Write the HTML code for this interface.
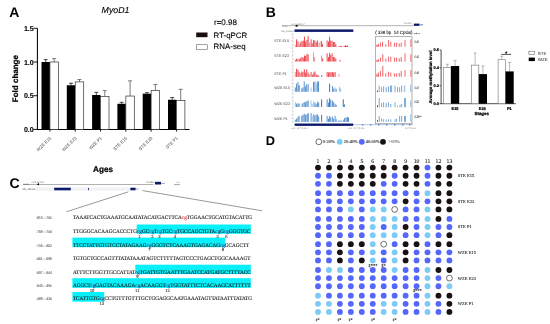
<!DOCTYPE html>
<html><head><meta charset="utf-8"><title>MyoD1 figure</title>
<style>html,body{margin:0;padding:0;background:#fff}svg{display:block;filter:blur(0.3px)}text{text-rendering:geometricPrecision}</style>
</head><body>
<svg width="550" height="324" viewBox="0 0 550 324">
<rect width="550" height="324" fill="#fff"/>
<text x="9.3" y="16.9" font-size="14" text-anchor="start" font-weight="bold" font-family="Liberation Sans, sans-serif" fill="#000"  >A</text>
<text x="115.5" y="12.8" font-size="8.8" text-anchor="middle" font-weight="normal" font-family="Liberation Sans, sans-serif" fill="#000" stroke="#000" stroke-width="0.1" font-style="italic">MyoD1</text>
<path d="M37.4 28.3V129.4M36.9 129.4H189.4" stroke="#000" stroke-width="1.05" fill="none"/>
<path d="M33.4 28.299999999999997H37.4" stroke="#000" stroke-width="0.9"/>
<text x="33.8" y="30.799999999999997" font-size="7.1" text-anchor="end" font-weight="bold" font-family="Liberation Sans, sans-serif" fill="#000" stroke="#000" stroke-width="0.1" >1.5</text>
<path d="M33.4 62.0H37.4" stroke="#000" stroke-width="0.9"/>
<text x="33.8" y="64.5" font-size="7.1" text-anchor="end" font-weight="bold" font-family="Liberation Sans, sans-serif" fill="#000" stroke="#000" stroke-width="0.1" >1.0</text>
<path d="M33.4 95.7H37.4" stroke="#000" stroke-width="0.9"/>
<text x="33.8" y="98.2" font-size="7.1" text-anchor="end" font-weight="bold" font-family="Liberation Sans, sans-serif" fill="#000" stroke="#000" stroke-width="0.1" >0.5</text>
<path d="M33.4 129.4H37.4" stroke="#000" stroke-width="0.9"/>
<text x="33.8" y="131.9" font-size="7.1" text-anchor="end" font-weight="bold" font-family="Liberation Sans, sans-serif" fill="#000" stroke="#000" stroke-width="0.1" >0.0</text>
<text x="0" y="0" font-size="8" text-anchor="middle" font-weight="bold" font-family="Liberation Sans, sans-serif" fill="#000" stroke="#000" stroke-width="0.22" transform="translate(18.2,78.6) rotate(-90)">Fold change</text>
<path d="M45.73 62.00V59.64M43.73 59.64H47.73" stroke="#000" stroke-width="0.7" fill="none"/>
<path d="M54.17 62.00V58.63M52.17 58.63H56.17" stroke="#444" stroke-width="0.7" fill="none"/>
<rect x="41.50" y="62.00" width="8.45" height="67.40" fill="#000"/>
<rect x="49.95" y="62.00" width="8.45" height="67.40" fill="#fff" stroke="#333" stroke-width="0.7"/>
<path d="M49.95 129.4V131.6" stroke="#000" stroke-width="0.9"/>
<text x="0" y="0" font-size="4.4" text-anchor="end" font-weight="normal" font-family="Liberation Sans, sans-serif" fill="#444"  transform="translate(51.65,138.40) rotate(-45)">WZE E15</text>
<path d="M71.02 85.25V83.23M69.02 83.23H73.02" stroke="#000" stroke-width="0.7" fill="none"/>
<path d="M79.47 81.88V79.52M77.47 79.52H81.47" stroke="#444" stroke-width="0.7" fill="none"/>
<rect x="66.80" y="85.25" width="8.45" height="44.15" fill="#000"/>
<rect x="75.25" y="81.88" width="8.45" height="47.52" fill="#fff" stroke="#333" stroke-width="0.7"/>
<path d="M75.25 129.4V131.6" stroke="#000" stroke-width="0.9"/>
<text x="0" y="0" font-size="4.4" text-anchor="end" font-weight="normal" font-family="Liberation Sans, sans-serif" fill="#444"  transform="translate(76.95,138.40) rotate(-45)">WZE E23</text>
<path d="M96.32 95.03V92.33M94.32 92.33H98.32" stroke="#000" stroke-width="0.7" fill="none"/>
<path d="M104.77 96.37V90.65M102.77 90.65H106.77" stroke="#444" stroke-width="0.7" fill="none"/>
<rect x="92.10" y="95.03" width="8.45" height="34.37" fill="#000"/>
<rect x="100.55" y="96.37" width="8.45" height="33.03" fill="#fff" stroke="#333" stroke-width="0.7"/>
<path d="M100.55 129.4V131.6" stroke="#000" stroke-width="0.9"/>
<text x="0" y="0" font-size="4.4" text-anchor="end" font-weight="normal" font-family="Liberation Sans, sans-serif" fill="#444"  transform="translate(102.25,138.40) rotate(-45)">WZE P1</text>
<path d="M121.62 103.79V102.31M119.62 102.31H123.62" stroke="#000" stroke-width="0.7" fill="none"/>
<path d="M130.08 96.04V80.87M128.08 80.87H132.08" stroke="#444" stroke-width="0.7" fill="none"/>
<rect x="117.40" y="103.79" width="8.45" height="25.61" fill="#000"/>
<rect x="125.85" y="96.04" width="8.45" height="33.36" fill="#fff" stroke="#333" stroke-width="0.7"/>
<path d="M125.85 129.4V131.6" stroke="#000" stroke-width="0.9"/>
<text x="0" y="0" font-size="4.4" text-anchor="end" font-weight="normal" font-family="Liberation Sans, sans-serif" fill="#444"  transform="translate(127.55,138.40) rotate(-45)">STE E15</text>
<path d="M146.92 93.68V92.67M144.92 92.67H148.92" stroke="#000" stroke-width="0.7" fill="none"/>
<path d="M155.38 90.51V84.44M153.38 84.44H157.38" stroke="#444" stroke-width="0.7" fill="none"/>
<rect x="142.70" y="93.68" width="8.45" height="35.72" fill="#000"/>
<rect x="151.15" y="90.51" width="8.45" height="38.89" fill="#fff" stroke="#333" stroke-width="0.7"/>
<path d="M151.15 129.4V131.6" stroke="#000" stroke-width="0.9"/>
<text x="0" y="0" font-size="4.4" text-anchor="end" font-weight="normal" font-family="Liberation Sans, sans-serif" fill="#444"  transform="translate(152.85,138.40) rotate(-45)">STE E23</text>
<path d="M172.22 99.74V97.52M170.22 97.52H174.22" stroke="#000" stroke-width="0.7" fill="none"/>
<path d="M180.68 100.42V89.30M178.68 89.30H182.68" stroke="#444" stroke-width="0.7" fill="none"/>
<rect x="168.00" y="99.74" width="8.45" height="29.66" fill="#000"/>
<rect x="176.45" y="100.42" width="8.45" height="28.98" fill="#fff" stroke="#333" stroke-width="0.7"/>
<path d="M176.45 129.4V131.6" stroke="#000" stroke-width="0.9"/>
<text x="0" y="0" font-size="4.4" text-anchor="end" font-weight="normal" font-family="Liberation Sans, sans-serif" fill="#444"  transform="translate(178.15,138.40) rotate(-45)">STE P1</text>
<text x="103" y="172.1" font-size="8.2" text-anchor="middle" font-weight="bold" font-family="Liberation Sans, sans-serif" fill="#000" stroke="#000" stroke-width="0.22" >Ages</text>
<text x="214" y="25.3" font-size="8" text-anchor="start" font-weight="normal" font-family="Liberation Sans, sans-serif" fill="#000" stroke="#000" stroke-width="0.1" >r=0.98</text>
<rect x="196.2" y="32.5" width="11.3" height="4.7" fill="#1a0f0f"/>
<text x="213.6" y="37.7" font-size="7.9" text-anchor="start" font-weight="normal" font-family="Liberation Sans, sans-serif" fill="#000" stroke="#000" stroke-width="0.1" >RT-qPCR</text>
<rect x="196.4" y="44.7" width="11" height="4.7" fill="#fff" stroke="#666" stroke-width="0.6"/>
<text x="213.6" y="49.4" font-size="7.9" text-anchor="start" font-weight="normal" font-family="Liberation Sans, sans-serif" fill="#000" stroke="#000" stroke-width="0.1" >RNA-seq</text>
<text x="265.8" y="16.9" font-size="14" text-anchor="start" font-weight="bold" font-family="Liberation Sans, sans-serif" fill="#000"  >B</text>
<path d="M282 25.7H413" stroke="#aaa" stroke-width="0.9"/>
<rect x="295.6" y="24.8" width="2" height="1.8" fill="#000"/>
<text x="291" y="24.6" font-size="2.2" text-anchor="start" font-weight="normal" font-family="Liberation Sans, sans-serif" fill="#888"  >chr5: 1234567</text>
<text x="282" y="26.6" font-size="2.2" text-anchor="start" font-weight="normal" font-family="Liberation Sans, sans-serif" fill="#888"  >Scale</text>
<rect x="413.8" y="23.6" width="5.6" height="2.3" fill="#0d1b6b"/>
<path d="M419.4 24.8H423" stroke="#0d1b6b" stroke-width="0.6"/>
<text x="404" y="24.3" font-size="2.2" text-anchor="start" font-weight="normal" font-family="Liberation Sans, sans-serif" fill="#888"  >MYOD1</text>
<text x="281" y="31.6" font-size="2.3" text-anchor="start" font-weight="normal" font-family="Liberation Sans, sans-serif" fill="#777"  >NM_204214</text>
<rect x="294.5" y="29.4" width="58.8" height="2.5" fill="#0d1b6b"/>
<path d="M292.6 33V123" stroke="#bbb" stroke-width="1.6" stroke-dasharray="0.5 0.9"/>
<text x="274.2" y="42.099999999999994" font-size="3.7" text-anchor="start" font-weight="normal" font-family="Liberation Sans, sans-serif" fill="#444"  >STE E15</text>
<text x="274.2" y="56.699999999999996" font-size="3.7" text-anchor="start" font-weight="normal" font-family="Liberation Sans, sans-serif" fill="#444"  >STE E23</text>
<text x="274.2" y="75.2" font-size="3.7" text-anchor="start" font-weight="normal" font-family="Liberation Sans, sans-serif" fill="#444"  >STE P1</text>
<text x="274.2" y="88.8" font-size="3.7" text-anchor="start" font-weight="normal" font-family="Liberation Sans, sans-serif" fill="#444"  >WZE E15</text>
<text x="274.2" y="104.6" font-size="3.7" text-anchor="start" font-weight="normal" font-family="Liberation Sans, sans-serif" fill="#444"  >WZE E23</text>
<text x="274.2" y="119.6" font-size="3.7" text-anchor="start" font-weight="normal" font-family="Liberation Sans, sans-serif" fill="#444"  >WZE P1</text>
<rect x="294.80" y="44.82" width="0.95" height="2.18" fill="#e81c24" opacity="0.5"/>
<rect x="296.11" y="39.37" width="0.95" height="7.63" fill="#e81c24" opacity="0.85"/>
<rect x="297.52" y="41.55" width="0.95" height="5.45" fill="#e81c24" opacity="0.85"/>
<rect x="298.94" y="43.73" width="0.95" height="3.27" fill="#e81c24" opacity="0.5"/>
<rect x="300.25" y="42.09" width="0.95" height="4.91" fill="#e81c24" opacity="0.85"/>
<rect x="301.56" y="41.00" width="0.95" height="6.00" fill="#e81c24" opacity="0.85"/>
<rect x="302.76" y="40.46" width="0.95" height="6.54" fill="#e81c24" opacity="0.85"/>
<rect x="304.07" y="36.64" width="0.95" height="10.36" fill="#e81c24" opacity="0.85"/>
<rect x="305.16" y="41.55" width="0.95" height="5.45" fill="#e81c24" opacity="0.85"/>
<rect x="306.47" y="39.91" width="0.95" height="7.09" fill="#e81c24" opacity="0.85"/>
<rect x="307.66" y="36.09" width="0.95" height="10.91" fill="#e81c24" opacity="0.85"/>
<rect x="308.97" y="42.64" width="0.95" height="4.36" fill="#e81c24" opacity="0.5"/>
<rect x="310.61" y="39.37" width="0.95" height="7.63" fill="#e81c24" opacity="0.85"/>
<rect x="311.70" y="43.18" width="0.95" height="3.82" fill="#e81c24" opacity="0.85"/>
<rect x="313.12" y="39.91" width="0.95" height="7.09" fill="#e81c24" opacity="0.85"/>
<rect x="314.43" y="40.46" width="0.95" height="6.54" fill="#e81c24" opacity="0.85"/>
<rect x="315.73" y="42.09" width="0.95" height="4.91" fill="#e81c24" opacity="0.85"/>
<rect x="317.15" y="40.46" width="0.95" height="6.54" fill="#e81c24" opacity="0.85"/>
<rect x="318.79" y="42.64" width="0.95" height="4.36" fill="#e81c24" opacity="0.5"/>
<rect x="320.75" y="41.00" width="0.95" height="6.00" fill="#e81c24" opacity="1"/>
<rect x="321.84" y="43.73" width="0.95" height="3.27" fill="#e81c24" opacity="0.85"/>
<rect x="326.64" y="40.46" width="0.95" height="6.54" fill="#e81c24" opacity="0.85"/>
<rect x="328.06" y="41.55" width="0.95" height="5.45" fill="#e81c24" opacity="0.85"/>
<rect x="329.15" y="36.64" width="0.95" height="10.36" fill="#e81c24" opacity="0.85"/>
<rect x="330.24" y="40.46" width="0.95" height="6.54" fill="#e81c24" opacity="0.85"/>
<rect x="331.66" y="41.00" width="0.95" height="6.00" fill="#e81c24" opacity="0.85"/>
<rect x="332.96" y="42.09" width="0.95" height="4.91" fill="#e81c24" opacity="0.85"/>
<rect x="334.27" y="42.09" width="0.95" height="4.91" fill="#e81c24" opacity="0.85"/>
<rect x="335.36" y="44.27" width="0.95" height="2.73" fill="#e81c24" opacity="0.85"/>
<rect x="338.64" y="46.13" width="0.95" height="0.87" fill="#e81c24" opacity="0.85"/>
<rect x="340.05" y="45.91" width="0.95" height="1.09" fill="#e81c24" opacity="0.85"/>
<rect x="341.14" y="46.13" width="0.95" height="0.87" fill="#e81c24" opacity="0.85"/>
<rect x="343.65" y="45.91" width="0.95" height="1.09" fill="#e81c24" opacity="0.85"/>
<rect x="344.96" y="45.36" width="0.95" height="1.64" fill="#e81c24" opacity="1"/>
<rect x="346.05" y="45.91" width="0.95" height="1.09" fill="#e81c24" opacity="0.85"/>
<rect x="347.14" y="45.69" width="0.95" height="1.31" fill="#e81c24" opacity="1"/>
<rect x="294.80" y="59.86" width="0.95" height="1.64" fill="#e81c24" opacity="0.85"/>
<rect x="296.11" y="58.77" width="0.95" height="2.73" fill="#e81c24" opacity="0.85"/>
<rect x="297.52" y="58.77" width="0.95" height="2.73" fill="#e81c24" opacity="0.85"/>
<rect x="298.94" y="59.32" width="0.95" height="2.18" fill="#e81c24" opacity="0.85"/>
<rect x="300.25" y="57.68" width="0.95" height="3.82" fill="#e81c24" opacity="0.85"/>
<rect x="301.56" y="57.14" width="0.95" height="4.36" fill="#e81c24" opacity="0.85"/>
<rect x="302.76" y="57.68" width="0.95" height="3.82" fill="#e81c24" opacity="0.85"/>
<rect x="304.07" y="55.50" width="0.95" height="6.00" fill="#e81c24" opacity="0.85"/>
<rect x="305.16" y="56.05" width="0.95" height="5.45" fill="#e81c24" opacity="0.85"/>
<rect x="306.47" y="53.87" width="0.95" height="7.63" fill="#e81c24" opacity="0.85"/>
<rect x="307.66" y="54.41" width="0.95" height="7.09" fill="#e81c24" opacity="0.85"/>
<rect x="313.01" y="52.23" width="0.95" height="9.27" fill="#e81c24" opacity="0.5"/>
<rect x="314.10" y="57.14" width="0.95" height="4.36" fill="#e81c24" opacity="0.5"/>
<rect x="320.97" y="55.50" width="0.95" height="6.00" fill="#e81c24" opacity="0.5"/>
<rect x="322.28" y="58.23" width="0.95" height="3.27" fill="#e81c24" opacity="0.85"/>
<rect x="326.64" y="53.32" width="0.95" height="8.18" fill="#e81c24" opacity="0.85"/>
<rect x="328.06" y="57.14" width="0.95" height="4.36" fill="#e81c24" opacity="0.85"/>
<rect x="329.15" y="52.78" width="0.95" height="8.72" fill="#e81c24" opacity="0.85"/>
<rect x="330.24" y="54.96" width="0.95" height="6.54" fill="#e81c24" opacity="0.85"/>
<rect x="331.66" y="53.32" width="0.95" height="8.18" fill="#e81c24" opacity="0.85"/>
<rect x="332.96" y="57.14" width="0.95" height="4.36" fill="#e81c24" opacity="0.85"/>
<rect x="334.27" y="57.14" width="0.95" height="4.36" fill="#e81c24" opacity="0.85"/>
<rect x="335.36" y="58.77" width="0.95" height="2.73" fill="#e81c24" opacity="0.85"/>
<rect x="339.51" y="59.86" width="0.95" height="1.64" fill="#e81c24" opacity="0.85"/>
<rect x="294.80" y="71.99" width="0.95" height="4.91" fill="#e81c24" opacity="0.5"/>
<rect x="296.11" y="68.72" width="0.95" height="8.18" fill="#e81c24" opacity="0.85"/>
<rect x="297.52" y="69.81" width="0.95" height="7.09" fill="#e81c24" opacity="0.85"/>
<rect x="298.61" y="71.99" width="0.95" height="4.91" fill="#e81c24" opacity="0.85"/>
<rect x="300.03" y="73.08" width="0.95" height="3.82" fill="#e81c24" opacity="0.5"/>
<rect x="301.34" y="71.45" width="0.95" height="5.45" fill="#e81c24" opacity="0.85"/>
<rect x="302.43" y="71.99" width="0.95" height="4.91" fill="#e81c24" opacity="0.85"/>
<rect x="303.85" y="69.27" width="0.95" height="7.63" fill="#e81c24" opacity="0.85"/>
<rect x="305.16" y="72.54" width="0.95" height="4.36" fill="#e81c24" opacity="0.85"/>
<rect x="306.25" y="69.27" width="0.95" height="7.63" fill="#e81c24" opacity="0.85"/>
<rect x="307.66" y="72.54" width="0.95" height="4.36" fill="#e81c24" opacity="0.85"/>
<rect x="308.97" y="74.17" width="0.95" height="2.73" fill="#e81c24" opacity="0.5"/>
<rect x="310.61" y="71.99" width="0.95" height="4.91" fill="#e81c24" opacity="0.85"/>
<rect x="311.92" y="74.72" width="0.95" height="2.18" fill="#e81c24" opacity="0.85"/>
<rect x="313.34" y="72.54" width="0.95" height="4.36" fill="#e81c24" opacity="0.85"/>
<rect x="314.43" y="71.45" width="0.95" height="5.45" fill="#e81c24" opacity="0.85"/>
<rect x="315.73" y="74.17" width="0.95" height="2.73" fill="#e81c24" opacity="0.85"/>
<rect x="317.15" y="75.26" width="0.95" height="1.64" fill="#e81c24" opacity="0.85"/>
<rect x="318.24" y="75.59" width="0.95" height="1.31" fill="#e81c24" opacity="0.85"/>
<rect x="321.19" y="75.26" width="0.95" height="1.64" fill="#e81c24" opacity="1"/>
<rect x="326.64" y="71.99" width="0.95" height="4.91" fill="#e81c24" opacity="0.85"/>
<rect x="328.06" y="72.54" width="0.95" height="4.36" fill="#e81c24" opacity="0.85"/>
<rect x="329.37" y="71.99" width="0.95" height="4.91" fill="#e81c24" opacity="0.85"/>
<rect x="330.57" y="72.54" width="0.95" height="4.36" fill="#e81c24" opacity="0.85"/>
<rect x="331.87" y="71.99" width="0.95" height="4.91" fill="#e81c24" opacity="0.85"/>
<rect x="333.18" y="72.54" width="0.95" height="4.36" fill="#e81c24" opacity="0.85"/>
<rect x="334.60" y="71.99" width="0.95" height="4.91" fill="#e81c24" opacity="0.85"/>
<rect x="338.42" y="74.17" width="0.95" height="2.73" fill="#e81c24" opacity="0.5"/>
<rect x="294.80" y="87.44" width="0.95" height="4.36" fill="#3f82c6" opacity="0.92"/>
<rect x="296.11" y="83.62" width="0.95" height="8.18" fill="#3f82c6" opacity="0.92"/>
<rect x="297.52" y="81.99" width="0.95" height="9.81" fill="#3f82c6" opacity="0.92"/>
<rect x="298.61" y="85.26" width="0.95" height="6.54" fill="#1c5ea6" opacity="0.92"/>
<rect x="301.34" y="88.53" width="0.95" height="3.27" fill="#3f82c6" opacity="0.92"/>
<rect x="302.43" y="87.44" width="0.95" height="4.36" fill="#3f82c6" opacity="0.92"/>
<rect x="303.74" y="81.44" width="0.95" height="10.36" fill="#3f82c6" opacity="0.92"/>
<rect x="305.16" y="86.35" width="0.95" height="5.45" fill="#3f82c6" opacity="0.92"/>
<rect x="306.25" y="84.17" width="0.95" height="7.63" fill="#3f82c6" opacity="0.92"/>
<rect x="307.66" y="84.17" width="0.95" height="7.63" fill="#3f82c6" opacity="0.92"/>
<rect x="310.61" y="87.44" width="0.95" height="4.36" fill="#8fbce4" opacity="0.92"/>
<rect x="313.01" y="81.99" width="0.95" height="9.81" fill="#3f82c6" opacity="0.92"/>
<rect x="314.43" y="81.44" width="0.95" height="10.36" fill="#3f82c6" opacity="0.92"/>
<rect x="315.73" y="84.17" width="0.95" height="7.63" fill="#8fbce4" opacity="0.92"/>
<rect x="316.82" y="81.44" width="0.95" height="10.36" fill="#3f82c6" opacity="0.92"/>
<rect x="318.02" y="81.44" width="0.95" height="10.36" fill="#3f82c6" opacity="0.92"/>
<rect x="329.15" y="83.62" width="0.95" height="8.18" fill="#1c5ea6" opacity="0.92"/>
<rect x="332.09" y="85.80" width="0.95" height="6.00" fill="#3f82c6" opacity="0.92"/>
<rect x="333.29" y="88.53" width="0.95" height="3.27" fill="#3f82c6" opacity="0.92"/>
<rect x="334.60" y="87.44" width="0.95" height="4.36" fill="#8fbce4" opacity="0.92"/>
<rect x="335.69" y="89.07" width="0.95" height="2.73" fill="#3f82c6" opacity="0.92"/>
<rect x="338.96" y="86.89" width="0.95" height="4.91" fill="#8fbce4" opacity="0.92"/>
<rect x="340.05" y="88.53" width="0.95" height="3.27" fill="#8fbce4" opacity="0.92"/>
<rect x="294.80" y="102.09" width="0.95" height="4.91" fill="#8fbce4" opacity="0.92"/>
<rect x="296.11" y="103.73" width="0.95" height="3.27" fill="#3f82c6" opacity="0.92"/>
<rect x="297.52" y="103.18" width="0.95" height="3.82" fill="#3f82c6" opacity="0.92"/>
<rect x="298.61" y="103.73" width="0.95" height="3.27" fill="#3f82c6" opacity="0.92"/>
<rect x="301.34" y="103.73" width="0.95" height="3.27" fill="#8fbce4" opacity="0.92"/>
<rect x="302.43" y="103.18" width="0.95" height="3.82" fill="#3f82c6" opacity="0.92"/>
<rect x="303.74" y="102.09" width="0.95" height="4.91" fill="#3f82c6" opacity="0.92"/>
<rect x="305.16" y="102.09" width="0.95" height="4.91" fill="#3f82c6" opacity="0.92"/>
<rect x="306.47" y="101.00" width="0.95" height="6.00" fill="#3f82c6" opacity="0.92"/>
<rect x="307.66" y="100.46" width="0.95" height="6.54" fill="#3f82c6" opacity="0.92"/>
<rect x="310.61" y="100.46" width="0.95" height="6.54" fill="#8fbce4" opacity="0.92"/>
<rect x="311.70" y="103.73" width="0.95" height="3.27" fill="#8fbce4" opacity="0.92"/>
<rect x="313.34" y="101.00" width="0.95" height="6.00" fill="#8fbce4" opacity="0.92"/>
<rect x="314.43" y="102.64" width="0.95" height="4.36" fill="#3f82c6" opacity="0.92"/>
<rect x="315.73" y="103.73" width="0.95" height="3.27" fill="#3f82c6" opacity="0.92"/>
<rect x="317.15" y="101.55" width="0.95" height="5.45" fill="#3f82c6" opacity="0.92"/>
<rect x="318.24" y="102.64" width="0.95" height="4.36" fill="#3f82c6" opacity="0.92"/>
<rect x="321.19" y="99.37" width="0.95" height="7.63" fill="#1c5ea6" opacity="0.92"/>
<rect x="326.64" y="99.37" width="0.95" height="7.63" fill="#3f82c6" opacity="0.92"/>
<rect x="328.06" y="102.64" width="0.95" height="4.36" fill="#3f82c6" opacity="0.92"/>
<rect x="329.15" y="98.28" width="0.95" height="8.72" fill="#1c5ea6" opacity="0.92"/>
<rect x="330.24" y="99.91" width="0.95" height="7.09" fill="#3f82c6" opacity="0.92"/>
<rect x="331.87" y="100.46" width="0.95" height="6.54" fill="#3f82c6" opacity="0.92"/>
<rect x="333.18" y="102.09" width="0.95" height="4.91" fill="#3f82c6" opacity="0.92"/>
<rect x="334.60" y="103.73" width="0.95" height="3.27" fill="#3f82c6" opacity="0.92"/>
<rect x="335.69" y="104.82" width="0.95" height="2.18" fill="#3f82c6" opacity="0.92"/>
<rect x="342.78" y="99.37" width="0.95" height="7.63" fill="#1c5ea6" opacity="0.92"/>
<rect x="344.09" y="104.27" width="0.95" height="2.73" fill="#3f82c6" opacity="0.92"/>
<rect x="294.80" y="119.72" width="0.95" height="2.18" fill="#3f82c6" opacity="0.92"/>
<rect x="296.11" y="118.63" width="0.95" height="3.27" fill="#3f82c6" opacity="0.92"/>
<rect x="297.52" y="116.99" width="0.95" height="4.91" fill="#3f82c6" opacity="0.92"/>
<rect x="298.61" y="115.90" width="0.95" height="6.00" fill="#3f82c6" opacity="0.92"/>
<rect x="301.34" y="115.90" width="0.95" height="6.00" fill="#3f82c6" opacity="0.92"/>
<rect x="302.43" y="114.81" width="0.95" height="7.09" fill="#3f82c6" opacity="0.92"/>
<rect x="303.74" y="113.72" width="0.95" height="8.18" fill="#3f82c6" opacity="0.92"/>
<rect x="305.16" y="114.81" width="0.95" height="7.09" fill="#3f82c6" opacity="0.92"/>
<rect x="306.47" y="114.27" width="0.95" height="7.63" fill="#3f82c6" opacity="0.92"/>
<rect x="307.66" y="113.18" width="0.95" height="8.72" fill="#1c5ea6" opacity="0.92"/>
<rect x="310.61" y="113.18" width="0.95" height="8.72" fill="#3f82c6" opacity="0.92"/>
<rect x="311.70" y="115.90" width="0.95" height="6.00" fill="#8fbce4" opacity="0.92"/>
<rect x="313.34" y="114.27" width="0.95" height="7.63" fill="#3f82c6" opacity="0.92"/>
<rect x="314.43" y="115.36" width="0.95" height="6.54" fill="#3f82c6" opacity="0.92"/>
<rect x="315.73" y="114.81" width="0.95" height="7.09" fill="#3f82c6" opacity="0.92"/>
<rect x="317.15" y="114.27" width="0.95" height="7.63" fill="#3f82c6" opacity="0.92"/>
<rect x="318.24" y="116.45" width="0.95" height="5.45" fill="#3f82c6" opacity="0.92"/>
<rect x="321.19" y="114.81" width="0.95" height="7.09" fill="#1c5ea6" opacity="0.92"/>
<rect x="326.64" y="115.90" width="0.95" height="6.00" fill="#3f82c6" opacity="0.92"/>
<rect x="328.06" y="118.63" width="0.95" height="3.27" fill="#3f82c6" opacity="0.92"/>
<rect x="329.15" y="115.90" width="0.95" height="6.00" fill="#3f82c6" opacity="0.92"/>
<rect x="330.24" y="117.54" width="0.95" height="4.36" fill="#3f82c6" opacity="0.92"/>
<rect x="331.87" y="116.45" width="0.95" height="5.45" fill="#3f82c6" opacity="0.92"/>
<rect x="333.18" y="118.63" width="0.95" height="3.27" fill="#3f82c6" opacity="0.92"/>
<rect x="334.60" y="115.90" width="0.95" height="6.00" fill="#3f82c6" opacity="0.92"/>
<rect x="335.69" y="119.17" width="0.95" height="2.73" fill="#3f82c6" opacity="0.92"/>
<rect x="337.87" y="120.59" width="0.95" height="1.31" fill="#3f82c6" opacity="0.92"/>
<rect x="339.51" y="120.26" width="0.95" height="1.64" fill="#3f82c6" opacity="0.92"/>
<rect x="340.82" y="120.81" width="0.95" height="1.09" fill="#3f82c6" opacity="0.92"/>
<rect x="342.78" y="119.72" width="0.95" height="2.18" fill="#3f82c6" opacity="0.92"/>
<rect x="344.09" y="118.08" width="0.95" height="3.82" fill="#3f82c6" opacity="0.92"/>
<rect x="345.51" y="117.54" width="0.95" height="4.36" fill="#3f82c6" opacity="0.92"/>
<rect x="346.81" y="116.99" width="0.95" height="4.91" fill="#1c5ea6" opacity="0.92"/>
<rect x="348.01" y="117.54" width="0.95" height="4.36" fill="#3f82c6" opacity="0.92"/>
<rect x="294.6" y="123.5" width="58.6" height="2.4" fill="#0d1b6b"/>
<path d="M353 124.7H413" stroke="#9fb2dd" stroke-width="0.8"/>
<rect x="362" y="124" width="1.4" height="1.4" fill="#5a78c8"/>
<rect x="370" y="124" width="1.4" height="1.4" fill="#5a78c8"/>
<rect x="378" y="124" width="1.4" height="1.4" fill="#5a78c8"/>
<rect x="386" y="124" width="1.4" height="1.4" fill="#5a78c8"/>
<rect x="394" y="124" width="1.4" height="1.4" fill="#5a78c8"/>
<rect x="402" y="124" width="1.4" height="1.4" fill="#5a78c8"/>
<rect x="409" y="124" width="1.4" height="1.4" fill="#5a78c8"/>
<text x="291" y="129" font-size="2.2" text-anchor="start" font-weight="normal" font-family="Liberation Sans, sans-serif" fill="#888"  >chr5: 12,770,000</text>
<text x="348" y="129" font-size="2.2" text-anchor="start" font-weight="normal" font-family="Liberation Sans, sans-serif" fill="#888"  >chr5: 12,772,000</text>
<text x="405" y="128.6" font-size="2.2" text-anchor="start" font-weight="normal" font-family="Liberation Sans, sans-serif" fill="#888"  >12,773,000</text>
<text x="375.2" y="34.1" font-size="4.7" text-anchor="start" font-weight="normal" font-family="Liberation Sans, sans-serif" fill="#222" stroke="#222" stroke-width="0.1" textLength="37.3" lengthAdjust="spacingAndGlyphs">( 338 bp&#160; 14 CpGs)</text>
<path d="M413.6 33.6H420M416.5 32.6V33.6" stroke="#444" stroke-width="0.5" fill="none"/>
<rect x="375.5" y="36.7" width="36.5" height="87" fill="none" stroke="#8a8a8a" stroke-width="0.65"/>
<rect x="376.50" y="44.80" width="1.0" height="2.00" fill="#e81c24" opacity="1"/>
<rect x="377.93" y="43.80" width="0.8" height="3.00" fill="#e81c24" opacity="0.85"/>
<rect x="379.93" y="42.63" width="0.8" height="4.17" fill="#e81c24" opacity="0.85"/>
<rect x="382.10" y="41.80" width="0.8" height="5.00" fill="#e81c24" opacity="0.85"/>
<rect x="385.43" y="44.30" width="0.8" height="2.50" fill="#e81c24" opacity="0.85"/>
<rect x="388.27" y="40.13" width="0.8" height="6.67" fill="#e81c24" opacity="0.85"/>
<rect x="390.43" y="41.80" width="0.8" height="5.00" fill="#e81c24" opacity="0.85"/>
<rect x="394.27" y="42.63" width="0.8" height="4.17" fill="#e81c24" opacity="0.85"/>
<rect x="396.27" y="42.63" width="0.8" height="4.17" fill="#e81c24" opacity="0.85"/>
<rect x="398.77" y="43.47" width="0.8" height="3.33" fill="#e81c24" opacity="0.85"/>
<rect x="400.77" y="42.63" width="0.8" height="4.17" fill="#e81c24" opacity="0.85"/>
<rect x="404.25" y="40.13" width="1.5" height="6.67" fill="#e81c24" opacity="0.45"/>
<rect x="410.08" y="39.30" width="1.5" height="7.50" fill="#e81c24" opacity="0.45"/>
<rect x="376.50" y="60.03" width="1.0" height="1.67" fill="#e81c24" opacity="1"/>
<rect x="377.93" y="59.20" width="0.8" height="2.50" fill="#e81c24" opacity="0.85"/>
<rect x="379.93" y="57.53" width="0.8" height="4.17" fill="#e81c24" opacity="0.85"/>
<rect x="382.43" y="54.20" width="0.8" height="7.50" fill="#e81c24" opacity="0.85"/>
<rect x="385.43" y="58.70" width="0.8" height="3.00" fill="#e81c24" opacity="0.85"/>
<rect x="388.27" y="56.70" width="0.8" height="5.00" fill="#e81c24" opacity="0.85"/>
<rect x="390.43" y="56.70" width="0.8" height="5.00" fill="#e81c24" opacity="0.85"/>
<rect x="394.27" y="57.53" width="0.8" height="4.17" fill="#e81c24" opacity="0.85"/>
<rect x="396.27" y="57.53" width="0.8" height="4.17" fill="#e81c24" opacity="0.85"/>
<rect x="398.77" y="58.37" width="0.8" height="3.33" fill="#e81c24" opacity="0.85"/>
<rect x="400.77" y="57.03" width="0.8" height="4.67" fill="#e81c24" opacity="0.85"/>
<rect x="404.25" y="53.37" width="1.5" height="8.33" fill="#e81c24" opacity="0.45"/>
<rect x="410.08" y="54.20" width="1.5" height="7.50" fill="#e81c24" opacity="0.45"/>
<rect x="376.50" y="74.20" width="1.0" height="2.50" fill="#e81c24" opacity="1"/>
<rect x="377.93" y="72.53" width="0.8" height="4.17" fill="#e81c24" opacity="0.85"/>
<rect x="379.93" y="70.87" width="0.8" height="5.83" fill="#e81c24" opacity="0.85"/>
<rect x="382.43" y="65.87" width="0.8" height="10.83" fill="#e81c24" opacity="0.85"/>
<rect x="385.43" y="73.37" width="0.8" height="3.33" fill="#e81c24" opacity="0.85"/>
<rect x="388.27" y="71.70" width="0.8" height="5.00" fill="#e81c24" opacity="0.85"/>
<rect x="390.43" y="72.53" width="0.8" height="4.17" fill="#e81c24" opacity="0.85"/>
<rect x="394.27" y="73.37" width="0.8" height="3.33" fill="#e81c24" opacity="0.85"/>
<rect x="396.27" y="73.37" width="0.8" height="3.33" fill="#e81c24" opacity="0.85"/>
<rect x="398.77" y="73.03" width="0.8" height="3.67" fill="#e81c24" opacity="0.85"/>
<rect x="400.77" y="70.87" width="0.8" height="5.83" fill="#e81c24" opacity="0.85"/>
<rect x="404.25" y="70.03" width="1.5" height="6.67" fill="#e81c24" opacity="0.45"/>
<rect x="410.08" y="70.03" width="1.5" height="6.67" fill="#e81c24" opacity="0.45"/>
<rect x="377.00" y="90.53" width="1.0" height="1.67" fill="#1c5ea6" opacity="0.92"/>
<rect x="378.77" y="85.53" width="0.8" height="6.67" fill="#4a8acb" opacity="0.92"/>
<rect x="381.27" y="87.20" width="0.8" height="5.00" fill="#4a8acb" opacity="0.92"/>
<rect x="383.27" y="86.37" width="0.8" height="5.83" fill="#4a8acb" opacity="0.92"/>
<rect x="385.77" y="87.20" width="0.8" height="5.00" fill="#4a8acb" opacity="0.92"/>
<rect x="387.93" y="86.37" width="0.8" height="5.83" fill="#4a8acb" opacity="0.92"/>
<rect x="389.93" y="85.53" width="0.8" height="6.67" fill="#4a8acb" opacity="0.92"/>
<rect x="391.27" y="85.53" width="0.8" height="6.67" fill="#4a8acb" opacity="0.92"/>
<rect x="394.60" y="85.53" width="0.8" height="6.67" fill="#4a8acb" opacity="0.92"/>
<rect x="397.10" y="87.20" width="0.8" height="5.00" fill="#4a8acb" opacity="0.92"/>
<rect x="399.27" y="87.20" width="0.8" height="5.00" fill="#4a8acb" opacity="0.92"/>
<rect x="401.27" y="85.53" width="0.8" height="6.67" fill="#4a8acb" opacity="0.92"/>
<rect x="403.75" y="85.53" width="1.5" height="6.67" fill="#9cc3e6" opacity="0.92"/>
<rect x="410.08" y="84.70" width="1.5" height="7.50" fill="#9cc3e6" opacity="0.92"/>
<rect x="377.00" y="105.20" width="1.0" height="2.00" fill="#1c5ea6" opacity="0.92"/>
<rect x="378.77" y="98.03" width="0.8" height="9.17" fill="#4a8acb" opacity="0.92"/>
<rect x="381.27" y="103.03" width="0.8" height="4.17" fill="#4a8acb" opacity="0.92"/>
<rect x="383.27" y="102.20" width="0.8" height="5.00" fill="#4a8acb" opacity="0.92"/>
<rect x="385.77" y="103.03" width="0.8" height="4.17" fill="#4a8acb" opacity="0.92"/>
<rect x="387.93" y="102.20" width="0.8" height="5.00" fill="#4a8acb" opacity="0.92"/>
<rect x="390.43" y="103.87" width="0.8" height="3.33" fill="#4a8acb" opacity="0.92"/>
<rect x="394.60" y="102.20" width="0.8" height="5.00" fill="#4a8acb" opacity="0.92"/>
<rect x="397.10" y="105.53" width="0.8" height="1.67" fill="#4a8acb" opacity="0.92"/>
<rect x="399.60" y="104.70" width="0.8" height="2.50" fill="#4a8acb" opacity="0.92"/>
<rect x="401.27" y="103.87" width="0.8" height="3.33" fill="#4a8acb" opacity="0.92"/>
<rect x="404.25" y="98.03" width="1.5" height="9.17" fill="#4a8acb" opacity="0.92"/>
<rect x="410.08" y="100.53" width="1.5" height="6.67" fill="#9cc3e6" opacity="0.92"/>
<rect x="377.00" y="120.13" width="1.0" height="1.67" fill="#1c5ea6" opacity="0.92"/>
<rect x="378.77" y="115.97" width="0.8" height="5.83" fill="#4a8acb" opacity="0.92"/>
<rect x="381.27" y="118.47" width="0.8" height="3.33" fill="#4a8acb" opacity="0.92"/>
<rect x="383.27" y="119.30" width="0.8" height="2.50" fill="#4a8acb" opacity="0.92"/>
<rect x="385.77" y="119.30" width="0.8" height="2.50" fill="#4a8acb" opacity="0.92"/>
<rect x="387.93" y="119.30" width="0.8" height="2.50" fill="#4a8acb" opacity="0.92"/>
<rect x="390.43" y="119.30" width="0.8" height="2.50" fill="#4a8acb" opacity="0.92"/>
<rect x="394.60" y="119.30" width="0.8" height="2.50" fill="#4a8acb" opacity="0.92"/>
<rect x="396.27" y="118.47" width="0.8" height="3.33" fill="#4a8acb" opacity="0.92"/>
<rect x="399.27" y="115.97" width="0.8" height="5.83" fill="#4a8acb" opacity="0.92"/>
<rect x="401.27" y="115.97" width="0.8" height="5.83" fill="#4a8acb" opacity="0.92"/>
<rect x="404.25" y="115.97" width="1.5" height="5.83" fill="#4a8acb" opacity="0.92"/>
<rect x="410.08" y="114.30" width="1.5" height="7.50" fill="#9cc3e6" opacity="0.92"/>
<text x="414.4" y="43.300000000000004" font-size="3.4" text-anchor="start" font-weight="normal" font-family="Liberation Sans, sans-serif" fill="#222" stroke="#222" stroke-width="0.06" textLength="4.5" lengthAdjust="spacingAndGlyphs">0.43</text>
<text x="414.4" y="57.6" font-size="3.4" text-anchor="start" font-weight="normal" font-family="Liberation Sans, sans-serif" fill="#222" stroke="#222" stroke-width="0.06" textLength="4.5" lengthAdjust="spacingAndGlyphs">0.43</text>
<text x="414.4" y="73.60000000000001" font-size="3.4" text-anchor="start" font-weight="normal" font-family="Liberation Sans, sans-serif" fill="#222" stroke="#222" stroke-width="0.06" textLength="4.5" lengthAdjust="spacingAndGlyphs">0.48</text>
<text x="414.4" y="88.5" font-size="3.4" text-anchor="start" font-weight="normal" font-family="Liberation Sans, sans-serif" fill="#222" stroke="#222" stroke-width="0.06" textLength="4.5" lengthAdjust="spacingAndGlyphs">0.42</text>
<text x="414.4" y="103.0" font-size="3.4" text-anchor="start" font-weight="normal" font-family="Liberation Sans, sans-serif" fill="#222" stroke="#222" stroke-width="0.06" textLength="4.5" lengthAdjust="spacingAndGlyphs">0.33</text>
<text x="414.4" y="118.10000000000001" font-size="3.4" text-anchor="start" font-weight="normal" font-family="Liberation Sans, sans-serif" fill="#222" stroke="#222" stroke-width="0.06" textLength="7.0" lengthAdjust="spacingAndGlyphs">0.36**</text>
<path d="M441.1 50V103.7M440.8 103.7H515.8" stroke="#000" stroke-width="0.7" fill="none"/>
<path d="M439.6 49.88H441.1" stroke="#000" stroke-width="0.6"/>
<text x="438.90000000000003" y="51.28" font-size="3.9" text-anchor="end" font-weight="bold" font-family="Liberation Sans, sans-serif" fill="#000" stroke="#000" stroke-width="0.22" >0.6</text>
<path d="M439.6 67.82H441.1" stroke="#000" stroke-width="0.6"/>
<text x="438.90000000000003" y="69.22" font-size="3.9" text-anchor="end" font-weight="bold" font-family="Liberation Sans, sans-serif" fill="#000" stroke="#000" stroke-width="0.22" >0.4</text>
<path d="M439.6 85.76H441.1" stroke="#000" stroke-width="0.6"/>
<text x="438.90000000000003" y="87.16000000000001" font-size="3.9" text-anchor="end" font-weight="bold" font-family="Liberation Sans, sans-serif" fill="#000" stroke="#000" stroke-width="0.22" >0.2</text>
<path d="M439.6 103.70H441.1" stroke="#000" stroke-width="0.6"/>
<text x="438.90000000000003" y="105.10000000000001" font-size="3.9" text-anchor="end" font-weight="bold" font-family="Liberation Sans, sans-serif" fill="#000" stroke="#000" stroke-width="0.22" >0.0</text>
<text x="0" y="0" font-size="4.3" text-anchor="middle" font-weight="bold" font-family="Liberation Sans, sans-serif" fill="#000" stroke="#000" stroke-width="0.22" transform="translate(432.4,77) rotate(-90)">Average methylation level</text>
<path d="M447.30 67.37V64.23M445.70 64.23H448.90" stroke="#777" stroke-width="0.5" fill="none"/>
<path d="M455.10 66.03V60.64M453.50 60.64H456.70" stroke="#777" stroke-width="0.5" fill="none"/>
<rect x="443.60" y="67.37" width="7.4" height="36.33" fill="#fff" stroke="#666" stroke-width="0.55"/>
<rect x="451.00" y="66.03" width="8.2" height="37.67" fill="#000"/>
<text x="455.0" y="109.5" font-size="3.9" text-anchor="middle" font-weight="bold" font-family="Liberation Sans, sans-serif" fill="#000" stroke="#000" stroke-width="0.22" >E15</text>
<path d="M475.10 65.13V53.02M473.50 53.02H476.70" stroke="#777" stroke-width="0.5" fill="none"/>
<path d="M482.90 74.10V66.03M481.30 66.03H484.50" stroke="#777" stroke-width="0.5" fill="none"/>
<rect x="471.40" y="65.13" width="7.4" height="38.57" fill="#fff" stroke="#666" stroke-width="0.55"/>
<rect x="478.80" y="74.10" width="8.2" height="29.60" fill="#000"/>
<text x="482.3" y="109.5" font-size="3.9" text-anchor="middle" font-weight="bold" font-family="Liberation Sans, sans-serif" fill="#000" stroke="#000" stroke-width="0.22" >E23</text>
<path d="M501.80 59.75V56.16M500.20 56.16H503.40" stroke="#777" stroke-width="0.5" fill="none"/>
<path d="M509.60 71.41V62.44M508.00 62.44H511.20" stroke="#777" stroke-width="0.5" fill="none"/>
<rect x="498.10" y="59.75" width="7.4" height="43.95" fill="#fff" stroke="#666" stroke-width="0.55"/>
<rect x="505.50" y="71.41" width="8.2" height="32.29" fill="#000"/>
<text x="509.4" y="109.5" font-size="3.9" text-anchor="middle" font-weight="bold" font-family="Liberation Sans, sans-serif" fill="#000" stroke="#000" stroke-width="0.22" >P1</text>
<path d="M501.3 54.4H511.2" stroke="#000" stroke-width="0.7"/>
<text x="506.3" y="54.6" font-size="5" text-anchor="middle" font-weight="bold" font-family="Liberation Sans, sans-serif" fill="#000" stroke="#000" stroke-width="0.22" >*</text>
<text x="481.7" y="115.4" font-size="4.4" text-anchor="middle" font-weight="bold" font-family="Liberation Sans, sans-serif" fill="#000" stroke="#000" stroke-width="0.22" >Stages</text>
<rect x="528.9" y="51.2" width="5.8" height="3.2" fill="#fff" stroke="#444" stroke-width="0.5"/>
<text x="537.8" y="54.5" font-size="4.5" text-anchor="start" font-weight="normal" font-family="Liberation Sans, sans-serif" fill="#222"  >STE</text>
<rect x="528.7" y="57.6" width="6.2" height="3.5" fill="#000"/>
<text x="537.8" y="61.1" font-size="4.5" text-anchor="start" font-weight="normal" font-family="Liberation Sans, sans-serif" fill="#222"  >WZE</text>
<text x="9.4" y="187.7" font-size="14" text-anchor="start" font-weight="bold" font-family="Liberation Sans, sans-serif" fill="#000"  >C</text>
<path d="M23 184.5H153.5" stroke="#a2a2a2" stroke-width="0.85"/>
<path d="M36.8 184.3l2.2 -1.2v2.4z" fill="#000"/>
<text x="31.6" y="183.1" font-size="2.2" text-anchor="start" font-weight="normal" font-family="Liberation Sans, sans-serif" fill="#555"  >chr5: 12,768</text>
<text x="23.2" y="185.2" font-size="2.3" text-anchor="start" font-weight="normal" font-family="Liberation Sans, sans-serif" fill="#444"  >Scale</text>
<text x="146.6" y="182.9" font-size="2.2" text-anchor="start" font-weight="normal" font-family="Liberation Sans, sans-serif" fill="#555"  >MYOD1</text>
<rect x="155" y="181.8" width="6" height="2.7" fill="#0d1b6b"/>
<path d="M161 183.4H165" stroke="#556" stroke-width="0.5"/>
<path d="M174 184.6H180" stroke="#555" stroke-width="0.5"/>
<text x="175.5" y="183.4" font-size="2" text-anchor="start" font-weight="normal" font-family="Liberation Sans, sans-serif" fill="#888"  >1 kb</text>
<text x="22.4" y="189.9" font-size="2.4" text-anchor="start" font-weight="normal" font-family="Liberation Sans, sans-serif" fill="#555"  >NM_204214</text>
<rect x="35" y="187.6" width="95" height="3" fill="#f1f1f5"/>
<rect x="54.2" y="187.7" width="16.6" height="2.6" fill="#0d1b6b"/>
<rect x="88.2" y="187.9" width="0.8" height="2.3" fill="#0d1b6b"/>
<rect x="130.3" y="187.7" width="5.3" height="2.6" fill="#0d1b6b"/>
<path d="M135.6 189.1H138.6" stroke="#556" stroke-width="0.5"/>
<path d="M66.3 211.8L128.5 191.8M142.6 190.6L262 210.8" stroke="#444" stroke-width="0.55" fill="none"/>
<rect x="136.7" y="224.5" width="114.1" height="9.3" fill="#08f1fb"/>
<rect x="72.4" y="237.6" width="152.9" height="9.6" fill="#08f1fb"/>
<rect x="135.3" y="264.7" width="115.5" height="9.4" fill="#08f1fb"/>
<rect x="72.4" y="278.2" width="178.4" height="9.7" fill="#08f1fb"/>
<rect x="72.4" y="292" width="31.8" height="9.7" fill="#08f1fb"/>
<text x="36.2" y="219.05" font-size="3.9" text-anchor="start" font-weight="normal" font-family="Liberation Sans, sans-serif" fill="#222"  textLength="15.7" lengthAdjust="spacingAndGlyphs">-813 - -760</text>
<text x="72.9" y="219.15" font-size="5.4" font-family="Liberation Serif, serif" fill="#111" stroke="#111" stroke-width="0.12" textLength="179.2" lengthAdjust="spacingAndGlyphs">TAAATCACTGAAATGCAATATACATGACTTCA<tspan fill="#f03030" stroke="#f03030">cg</tspan>TGGAACTGCATGTACATTG</text>
<text x="36.2" y="232.75" font-size="3.9" text-anchor="start" font-weight="normal" font-family="Liberation Sans, sans-serif" fill="#222"  textLength="15.7" lengthAdjust="spacingAndGlyphs">-759 - -706</text>
<text x="72.9" y="232.85" font-size="5.4" font-family="Liberation Serif, serif" fill="#111" stroke="#111" stroke-width="0.12" textLength="177.7" lengthAdjust="spacingAndGlyphs">TTGGGCACAAGCACCCTG<tspan fill="#3f4a8c" stroke="#3f4a8c">cg</tspan>GC<tspan fill="#3f4a8c" stroke="#3f4a8c">cg</tspan>T<tspan fill="#3f4a8c" stroke="#3f4a8c">cg</tspan>TGC<tspan fill="#3f4a8c" stroke="#3f4a8c">cg</tspan>TGCCAGCTGTA<tspan fill="#3f4a8c" stroke="#3f4a8c">cg</tspan>G<tspan fill="#3f4a8c" stroke="#3f4a8c">cg</tspan>GGGTGC</text>
<text x="36.2" y="246.55" font-size="3.9" text-anchor="start" font-weight="normal" font-family="Liberation Sans, sans-serif" fill="#222"  textLength="15.7" lengthAdjust="spacingAndGlyphs">-705 - -652</text>
<text x="72.9" y="246.65" font-size="5.4" font-family="Liberation Serif, serif" fill="#111" stroke="#111" stroke-width="0.12" textLength="176.4" lengthAdjust="spacingAndGlyphs">TTCCTATTGTGTCCTATAGAAG<tspan fill="#3f4a8c" stroke="#3f4a8c">cg</tspan>GGGTCTCAAAGTGAGACAG<tspan fill="#3f4a8c" stroke="#3f4a8c">cg</tspan>GCAGCTT</text>
<text x="36.2" y="260.05" font-size="3.9" text-anchor="start" font-weight="normal" font-family="Liberation Sans, sans-serif" fill="#222"  textLength="15.7" lengthAdjust="spacingAndGlyphs">-651 - -598</text>
<text x="72.9" y="260.15000000000003" font-size="5.4" font-family="Liberation Serif, serif" fill="#111" stroke="#111" stroke-width="0.12" textLength="177.5" lengthAdjust="spacingAndGlyphs">TGTGCTGCCAGTTTATATAAATAGTCTTTTTAGTCCCTGAGCTGGCAAAAGT</text>
<text x="36.2" y="273.65" font-size="3.9" text-anchor="start" font-weight="normal" font-family="Liberation Sans, sans-serif" fill="#222"  textLength="15.7" lengthAdjust="spacingAndGlyphs">-597 - -544</text>
<text x="72.9" y="273.75" font-size="5.4" font-family="Liberation Serif, serif" fill="#111" stroke="#111" stroke-width="0.12" textLength="177.7" lengthAdjust="spacingAndGlyphs">ATTTCTTGGTTGCCATTAT<tspan fill="#3f4a8c" stroke="#3f4a8c">cg</tspan>TGATTGTGAATTTGAATCCATGATGCTTTTACC</text>
<text x="36.2" y="286.75" font-size="3.9" text-anchor="start" font-weight="normal" font-family="Liberation Sans, sans-serif" fill="#222"  textLength="15.7" lengthAdjust="spacingAndGlyphs">-543 - -490</text>
<text x="72.9" y="286.85" font-size="5.4" font-family="Liberation Serif, serif" fill="#111" stroke="#111" stroke-width="0.12" textLength="177.7" lengthAdjust="spacingAndGlyphs">AGGCT<tspan fill="#3f4a8c" stroke="#3f4a8c">cg</tspan>GAGTACAAAGA<tspan fill="#3f4a8c" stroke="#3f4a8c">cg</tspan>ACAAGGT<tspan fill="#3f4a8c" stroke="#3f4a8c">cg</tspan>TGGTATTTCTCACAAGCATTTTTT</text>
<text x="36.2" y="300.15" font-size="3.9" text-anchor="start" font-weight="normal" font-family="Liberation Sans, sans-serif" fill="#222"  textLength="15.7" lengthAdjust="spacingAndGlyphs">-489 - -436</text>
<text x="72.9" y="300.25" font-size="5.4" font-family="Liberation Serif, serif" fill="#111" stroke="#111" stroke-width="0.12" textLength="179.1" lengthAdjust="spacingAndGlyphs">TCATTGTG<tspan fill="#3f4a8c" stroke="#3f4a8c">cg</tspan>CCTGTTTGTTTGCTGGAGGCAATGAAATAGTTATAATTTATATG</text>
<text x="139.3" y="237.6" font-size="4.6" text-anchor="middle" font-weight="normal" font-family="Liberation Serif, serif" fill="#3a2a22" stroke="#3a2a22" stroke-width="0.1" >1</text>
<text x="152.3" y="237.6" font-size="4.6" text-anchor="middle" font-weight="normal" font-family="Liberation Serif, serif" fill="#3a2a22" stroke="#3a2a22" stroke-width="0.1" >2</text>
<text x="159.3" y="237.6" font-size="4.6" text-anchor="middle" font-weight="normal" font-family="Liberation Serif, serif" fill="#3a2a22" stroke="#3a2a22" stroke-width="0.1" >3</text>
<text x="175" y="237.6" font-size="4.6" text-anchor="middle" font-weight="normal" font-family="Liberation Serif, serif" fill="#3a2a22" stroke="#3a2a22" stroke-width="0.1" >4</text>
<text x="217.6" y="237.6" font-size="4.6" text-anchor="middle" font-weight="normal" font-family="Liberation Serif, serif" fill="#3a2a22" stroke="#3a2a22" stroke-width="0.1" >5</text>
<text x="226.4" y="237.6" font-size="4.6" text-anchor="middle" font-weight="normal" font-family="Liberation Serif, serif" fill="#3a2a22" stroke="#3a2a22" stroke-width="0.1" >6</text>
<text x="149.4" y="251.0" font-size="4.6" text-anchor="middle" font-weight="normal" font-family="Liberation Serif, serif" fill="#3a2a22" stroke="#3a2a22" stroke-width="0.1" >7</text>
<text x="223" y="251.0" font-size="4.6" text-anchor="middle" font-weight="normal" font-family="Liberation Serif, serif" fill="#3a2a22" stroke="#3a2a22" stroke-width="0.1" >8</text>
<text x="137.3" y="278.2" font-size="4.6" text-anchor="middle" font-weight="normal" font-family="Liberation Serif, serif" fill="#3a2a22" stroke="#3a2a22" stroke-width="0.1" >9</text>
<text x="92" y="291.59999999999997" font-size="4.6" text-anchor="middle" font-weight="normal" font-family="Liberation Serif, serif" fill="#3a2a22" stroke="#3a2a22" stroke-width="0.1" >10</text>
<text x="137.3" y="291.59999999999997" font-size="4.6" text-anchor="middle" font-weight="normal" font-family="Liberation Serif, serif" fill="#3a2a22" stroke="#3a2a22" stroke-width="0.1" >11</text>
<text x="167.5" y="291.59999999999997" font-size="4.6" text-anchor="middle" font-weight="normal" font-family="Liberation Serif, serif" fill="#3a2a22" stroke="#3a2a22" stroke-width="0.1" >12</text>
<text x="101.8" y="305.2" font-size="4.6" text-anchor="middle" font-weight="normal" font-family="Liberation Serif, serif" fill="#3a2a22" stroke="#3a2a22" stroke-width="0.1" >13</text>
<text x="265.7" y="144.6" font-size="12.8" text-anchor="start" font-weight="bold" font-family="Liberation Sans, sans-serif" fill="#000"  >D</text>
<circle cx="318.80" cy="141.80" r="2.9" fill="#fff" stroke="#222" stroke-width="0.65"/>
<text x="322.7" y="143.4" font-size="4.5" text-anchor="start" font-weight="normal" font-family="Liberation Serif, serif" fill="#333" stroke="#333" stroke-width="0.1" >0-20%</text>
<circle cx="339.70" cy="141.80" r="2.92" fill="#7ccbf4"/>
<text x="343.8" y="143.4" font-size="4.4" text-anchor="start" font-weight="normal" font-family="Liberation Serif, serif" fill="#333" stroke="#333" stroke-width="0.1" >20-40%</text>
<circle cx="361.80" cy="141.80" r="2.92" fill="#5566fb"/>
<text x="365.7" y="143.4" font-size="4.4" text-anchor="start" font-weight="normal" font-family="Liberation Serif, serif" fill="#333" stroke="#333" stroke-width="0.1" >40-60%</text>
<circle cx="383.00" cy="141.80" r="2.92" fill="#1a1212"/>
<text x="388.6" y="143.4" font-size="4.6" text-anchor="start" font-weight="normal" font-family="Liberation Serif, serif" fill="#666" stroke="#666" stroke-width="0.05" >&gt;60%</text>
<text x="318.0" y="163.2" font-size="5.7" text-anchor="middle" font-weight="normal" font-family="Liberation Serif, serif" fill="#222" stroke="#222" stroke-width="0.1" >1</text>
<text x="328.95" y="163.2" font-size="5.7" text-anchor="middle" font-weight="normal" font-family="Liberation Serif, serif" fill="#222" stroke="#222" stroke-width="0.1" >2</text>
<text x="339.9" y="163.2" font-size="5.7" text-anchor="middle" font-weight="normal" font-family="Liberation Serif, serif" fill="#222" stroke="#222" stroke-width="0.1" >3</text>
<text x="350.85" y="163.2" font-size="5.7" text-anchor="middle" font-weight="normal" font-family="Liberation Serif, serif" fill="#222" stroke="#222" stroke-width="0.1" >4</text>
<text x="361.8" y="163.2" font-size="5.7" text-anchor="middle" font-weight="normal" font-family="Liberation Serif, serif" fill="#222" stroke="#222" stroke-width="0.1" >5</text>
<text x="372.75" y="163.2" font-size="5.7" text-anchor="middle" font-weight="normal" font-family="Liberation Serif, serif" fill="#222" stroke="#222" stroke-width="0.1" >6</text>
<text x="383.7" y="163.2" font-size="5.7" text-anchor="middle" font-weight="normal" font-family="Liberation Serif, serif" fill="#222" stroke="#222" stroke-width="0.1" >7</text>
<text x="394.65" y="163.2" font-size="5.7" text-anchor="middle" font-weight="normal" font-family="Liberation Serif, serif" fill="#222" stroke="#222" stroke-width="0.1" >8</text>
<text x="405.6" y="163.2" font-size="5.7" text-anchor="middle" font-weight="normal" font-family="Liberation Serif, serif" fill="#222" stroke="#222" stroke-width="0.1" >9</text>
<text x="416.55" y="163.2" font-size="5.7" text-anchor="middle" font-weight="normal" font-family="Liberation Serif, serif" fill="#222" stroke="#222" stroke-width="0.1" >10</text>
<text x="427.5" y="163.2" font-size="5.7" text-anchor="middle" font-weight="normal" font-family="Liberation Serif, serif" fill="#222" stroke="#222" stroke-width="0.1" >11</text>
<text x="438.45" y="163.2" font-size="5.7" text-anchor="middle" font-weight="normal" font-family="Liberation Serif, serif" fill="#222" stroke="#222" stroke-width="0.1" >12</text>
<text x="449.4" y="163.2" font-size="5.7" text-anchor="middle" font-weight="normal" font-family="Liberation Serif, serif" fill="#222" stroke="#222" stroke-width="0.1" >13</text>
<circle cx="318.00" cy="167.60" r="2.92" fill="#1a1212"/>
<circle cx="328.95" cy="167.60" r="2.92" fill="#1a1212"/>
<circle cx="339.90" cy="167.60" r="2.92" fill="#1a1212"/>
<circle cx="350.85" cy="167.60" r="2.92" fill="#1a1212"/>
<circle cx="361.80" cy="167.60" r="2.92" fill="#1a1212"/>
<circle cx="372.75" cy="167.60" r="2.92" fill="#1a1212"/>
<circle cx="383.70" cy="167.60" r="2.92" fill="#1a1212"/>
<circle cx="394.65" cy="167.60" r="2.92" fill="#1a1212"/>
<circle cx="405.60" cy="167.60" r="2.92" fill="#1a1212"/>
<circle cx="416.55" cy="167.60" r="2.92" fill="#1a1212"/>
<circle cx="427.50" cy="167.60" r="2.92" fill="#5566fb"/>
<circle cx="438.45" cy="167.60" r="2.92" fill="#1a1212"/>
<circle cx="449.40" cy="167.60" r="2.92" fill="#1a1212"/>
<circle cx="318.00" cy="175.72" r="2.92" fill="#5566fb"/>
<circle cx="328.95" cy="175.72" r="2.92" fill="#5566fb"/>
<circle cx="339.90" cy="175.72" r="2.92" fill="#1a1212"/>
<circle cx="350.85" cy="175.72" r="2.92" fill="#1a1212"/>
<circle cx="361.80" cy="175.72" r="2.92" fill="#1a1212"/>
<circle cx="372.75" cy="175.72" r="2.92" fill="#1a1212"/>
<circle cx="383.70" cy="175.72" r="2.92" fill="#1a1212"/>
<circle cx="394.65" cy="175.72" r="2.92" fill="#5566fb"/>
<circle cx="405.60" cy="175.72" r="2.92" fill="#1a1212"/>
<circle cx="416.55" cy="175.72" r="2.92" fill="#1a1212"/>
<circle cx="427.50" cy="175.72" r="2.92" fill="#5566fb"/>
<circle cx="438.45" cy="175.72" r="2.92" fill="#1a1212"/>
<circle cx="449.40" cy="175.72" r="2.92" fill="#1a1212"/>
<circle cx="318.00" cy="183.84" r="2.92" fill="#5566fb"/>
<circle cx="328.95" cy="183.84" r="2.92" fill="#5566fb"/>
<circle cx="339.90" cy="183.84" r="2.92" fill="#1a1212"/>
<circle cx="350.85" cy="183.84" r="2.92" fill="#1a1212"/>
<circle cx="361.80" cy="183.84" r="2.92" fill="#1a1212"/>
<circle cx="372.75" cy="183.84" r="2.92" fill="#1a1212"/>
<circle cx="383.70" cy="183.84" r="2.92" fill="#5566fb"/>
<circle cx="394.65" cy="183.84" r="2.92" fill="#5566fb"/>
<circle cx="405.60" cy="183.84" r="2.92" fill="#1a1212"/>
<circle cx="416.55" cy="183.84" r="2.92" fill="#1a1212"/>
<circle cx="427.50" cy="183.84" r="2.92" fill="#5566fb"/>
<circle cx="438.45" cy="183.84" r="2.92" fill="#1a1212"/>
<circle cx="449.40" cy="183.84" r="2.92" fill="#1a1212"/>
<circle cx="318.00" cy="193.20" r="2.92" fill="#5566fb"/>
<circle cx="328.95" cy="193.20" r="2.92" fill="#5566fb"/>
<circle cx="339.90" cy="193.20" r="2.92" fill="#5566fb"/>
<circle cx="350.85" cy="193.20" r="2.92" fill="#5566fb"/>
<circle cx="361.80" cy="193.20" r="2.92" fill="#5566fb"/>
<circle cx="372.75" cy="193.20" r="2.92" fill="#5566fb"/>
<circle cx="383.70" cy="193.20" r="2.92" fill="#5566fb"/>
<circle cx="394.65" cy="193.20" r="2.92" fill="#5566fb"/>
<circle cx="405.60" cy="193.20" r="2.92" fill="#5566fb"/>
<circle cx="416.55" cy="193.20" r="2.92" fill="#5566fb"/>
<circle cx="427.50" cy="193.20" r="2.92" fill="#7ccbf4"/>
<circle cx="438.45" cy="193.20" r="2.92" fill="#1a1212"/>
<circle cx="449.40" cy="193.20" r="2.92" fill="#1a1212"/>
<circle cx="318.00" cy="201.32" r="2.92" fill="#5566fb"/>
<circle cx="328.95" cy="201.32" r="2.92" fill="#5566fb"/>
<circle cx="339.90" cy="201.32" r="2.92" fill="#5566fb"/>
<circle cx="350.85" cy="201.32" r="2.92" fill="#5566fb"/>
<circle cx="361.80" cy="201.32" r="2.92" fill="#5566fb"/>
<circle cx="372.75" cy="201.32" r="2.92" fill="#5566fb"/>
<circle cx="383.70" cy="201.32" r="2.92" fill="#5566fb"/>
<circle cx="394.65" cy="201.32" r="2.92" fill="#5566fb"/>
<circle cx="405.60" cy="201.32" r="2.92" fill="#1a1212"/>
<circle cx="416.55" cy="201.32" r="2.92" fill="#5566fb"/>
<circle cx="427.50" cy="201.32" r="2.92" fill="#5566fb"/>
<circle cx="438.45" cy="201.32" r="2.92" fill="#1a1212"/>
<circle cx="449.40" cy="201.32" r="2.92" fill="#1a1212"/>
<circle cx="318.00" cy="209.44" r="2.92" fill="#5566fb"/>
<circle cx="328.95" cy="209.44" r="2.92" fill="#5566fb"/>
<circle cx="339.90" cy="209.44" r="2.92" fill="#5566fb"/>
<circle cx="350.85" cy="209.44" r="2.92" fill="#7ccbf4"/>
<circle cx="361.80" cy="209.44" r="2.92" fill="#5566fb"/>
<circle cx="372.75" cy="209.44" r="2.92" fill="#7ccbf4"/>
<circle cx="383.70" cy="209.44" r="2.92" fill="#7ccbf4"/>
<circle cx="394.65" cy="209.44" r="2.9" fill="#fff" stroke="#222" stroke-width="0.65"/>
<circle cx="405.60" cy="209.44" r="2.92" fill="#5566fb"/>
<circle cx="416.55" cy="209.44" r="2.92" fill="#5566fb"/>
<circle cx="427.50" cy="209.44" r="2.92" fill="#7ccbf4"/>
<circle cx="438.45" cy="209.44" r="2.92" fill="#1a1212"/>
<circle cx="449.40" cy="209.44" r="2.92" fill="#1a1212"/>
<circle cx="318.00" cy="218.90" r="2.92" fill="#5566fb"/>
<circle cx="328.95" cy="218.90" r="2.92" fill="#5566fb"/>
<circle cx="339.90" cy="218.90" r="2.92" fill="#5566fb"/>
<circle cx="350.85" cy="218.90" r="2.92" fill="#5566fb"/>
<circle cx="361.80" cy="218.90" r="2.92" fill="#5566fb"/>
<circle cx="372.75" cy="218.90" r="2.92" fill="#7ccbf4"/>
<circle cx="383.70" cy="218.90" r="2.92" fill="#7ccbf4"/>
<circle cx="394.65" cy="218.90" r="2.92" fill="#7ccbf4"/>
<circle cx="405.60" cy="218.90" r="2.92" fill="#5566fb"/>
<circle cx="416.55" cy="218.90" r="2.92" fill="#5566fb"/>
<circle cx="427.50" cy="218.90" r="2.92" fill="#7ccbf4"/>
<circle cx="438.45" cy="218.90" r="2.92" fill="#1a1212"/>
<circle cx="449.40" cy="218.90" r="2.92" fill="#5566fb"/>
<circle cx="318.00" cy="227.02" r="2.92" fill="#5566fb"/>
<circle cx="328.95" cy="227.02" r="2.92" fill="#5566fb"/>
<circle cx="339.90" cy="227.02" r="2.92" fill="#5566fb"/>
<circle cx="350.85" cy="227.02" r="2.92" fill="#5566fb"/>
<circle cx="361.80" cy="227.02" r="2.92" fill="#5566fb"/>
<circle cx="372.75" cy="227.02" r="2.92" fill="#7ccbf4"/>
<circle cx="383.70" cy="227.02" r="2.92" fill="#5566fb"/>
<circle cx="394.65" cy="227.02" r="2.92" fill="#7ccbf4"/>
<circle cx="405.60" cy="227.02" r="2.92" fill="#1a1212"/>
<circle cx="416.55" cy="227.02" r="2.92" fill="#5566fb"/>
<circle cx="427.50" cy="227.02" r="2.92" fill="#7ccbf4"/>
<circle cx="438.45" cy="227.02" r="2.92" fill="#5566fb"/>
<circle cx="449.40" cy="227.02" r="2.92" fill="#5566fb"/>
<circle cx="318.00" cy="235.14" r="2.92" fill="#5566fb"/>
<circle cx="328.95" cy="235.14" r="2.92" fill="#5566fb"/>
<circle cx="339.90" cy="235.14" r="2.92" fill="#5566fb"/>
<circle cx="350.85" cy="235.14" r="2.92" fill="#5566fb"/>
<circle cx="361.80" cy="235.14" r="2.92" fill="#5566fb"/>
<circle cx="372.75" cy="235.14" r="2.92" fill="#7ccbf4"/>
<circle cx="383.70" cy="235.14" r="2.92" fill="#7ccbf4"/>
<circle cx="394.65" cy="235.14" r="2.92" fill="#7ccbf4"/>
<circle cx="405.60" cy="235.14" r="2.92" fill="#5566fb"/>
<circle cx="416.55" cy="235.14" r="2.92" fill="#5566fb"/>
<circle cx="427.50" cy="235.14" r="2.92" fill="#7ccbf4"/>
<circle cx="438.45" cy="235.14" r="2.92" fill="#5566fb"/>
<circle cx="449.40" cy="235.14" r="2.92" fill="#1a1212"/>
<circle cx="318.00" cy="244.20" r="2.92" fill="#5566fb"/>
<circle cx="328.95" cy="244.20" r="2.92" fill="#5566fb"/>
<circle cx="339.90" cy="244.20" r="2.92" fill="#1a1212"/>
<circle cx="350.85" cy="244.20" r="2.92" fill="#1a1212"/>
<circle cx="361.80" cy="244.20" r="2.92" fill="#1a1212"/>
<circle cx="372.75" cy="244.20" r="2.92" fill="#7ccbf4"/>
<circle cx="383.70" cy="244.20" r="2.9" fill="#fff" stroke="#222" stroke-width="0.65"/>
<circle cx="394.65" cy="244.20" r="2.92" fill="#5566fb"/>
<circle cx="405.60" cy="244.20" r="2.92" fill="#1a1212"/>
<circle cx="416.55" cy="244.20" r="2.92" fill="#1a1212"/>
<circle cx="427.50" cy="244.20" r="2.92" fill="#5566fb"/>
<circle cx="438.45" cy="244.20" r="2.92" fill="#1a1212"/>
<circle cx="449.40" cy="244.20" r="2.92" fill="#1a1212"/>
<circle cx="318.00" cy="252.32" r="2.92" fill="#5566fb"/>
<circle cx="328.95" cy="252.32" r="2.92" fill="#5566fb"/>
<circle cx="339.90" cy="252.32" r="2.92" fill="#1a1212"/>
<circle cx="350.85" cy="252.32" r="2.92" fill="#5566fb"/>
<circle cx="361.80" cy="252.32" r="2.92" fill="#5566fb"/>
<circle cx="372.75" cy="252.32" r="2.92" fill="#7ccbf4"/>
<circle cx="383.70" cy="252.32" r="2.92" fill="#5566fb"/>
<circle cx="394.65" cy="252.32" r="2.92" fill="#7ccbf4"/>
<circle cx="405.60" cy="252.32" r="2.92" fill="#1a1212"/>
<circle cx="416.55" cy="252.32" r="2.92" fill="#5566fb"/>
<circle cx="427.50" cy="252.32" r="2.92" fill="#5566fb"/>
<circle cx="438.45" cy="252.32" r="2.92" fill="#5566fb"/>
<circle cx="449.40" cy="252.32" r="2.92" fill="#5566fb"/>
<circle cx="318.00" cy="260.44" r="2.92" fill="#5566fb"/>
<circle cx="328.95" cy="260.44" r="2.92" fill="#5566fb"/>
<circle cx="339.90" cy="260.44" r="2.92" fill="#1a1212"/>
<circle cx="350.85" cy="260.44" r="2.92" fill="#5566fb"/>
<circle cx="361.80" cy="260.44" r="2.92" fill="#1a1212"/>
<circle cx="372.75" cy="260.44" r="2.92" fill="#7ccbf4"/>
<circle cx="383.70" cy="260.44" r="2.92" fill="#5566fb"/>
<circle cx="394.65" cy="260.44" r="2.92" fill="#7ccbf4"/>
<circle cx="405.60" cy="260.44" r="2.92" fill="#1a1212"/>
<circle cx="416.55" cy="260.44" r="2.92" fill="#5566fb"/>
<circle cx="427.50" cy="260.44" r="2.92" fill="#5566fb"/>
<circle cx="438.45" cy="260.44" r="2.92" fill="#5566fb"/>
<circle cx="449.40" cy="260.44" r="2.92" fill="#5566fb"/>
<circle cx="318.00" cy="270.00" r="2.92" fill="#5566fb"/>
<circle cx="328.95" cy="270.00" r="2.92" fill="#7ccbf4"/>
<circle cx="339.90" cy="270.00" r="2.92" fill="#7ccbf4"/>
<circle cx="350.85" cy="270.00" r="2.92" fill="#5566fb"/>
<circle cx="361.80" cy="270.00" r="2.92" fill="#5566fb"/>
<circle cx="372.75" cy="270.00" r="2.92" fill="#5566fb"/>
<circle cx="383.70" cy="270.00" r="2.92" fill="#5566fb"/>
<circle cx="394.65" cy="270.00" r="2.92" fill="#7ccbf4"/>
<circle cx="405.60" cy="270.00" r="2.92" fill="#5566fb"/>
<circle cx="416.55" cy="270.00" r="2.92" fill="#5566fb"/>
<circle cx="427.50" cy="270.00" r="2.92" fill="#7ccbf4"/>
<circle cx="438.45" cy="270.00" r="2.92" fill="#1a1212"/>
<circle cx="449.40" cy="270.00" r="2.92" fill="#1a1212"/>
<circle cx="318.00" cy="278.12" r="2.92" fill="#5566fb"/>
<circle cx="328.95" cy="278.12" r="2.92" fill="#5566fb"/>
<circle cx="339.90" cy="278.12" r="2.92" fill="#5566fb"/>
<circle cx="350.85" cy="278.12" r="2.92" fill="#5566fb"/>
<circle cx="361.80" cy="278.12" r="2.92" fill="#5566fb"/>
<circle cx="372.75" cy="278.12" r="2.92" fill="#5566fb"/>
<circle cx="383.70" cy="278.12" r="2.92" fill="#5566fb"/>
<circle cx="394.65" cy="278.12" r="2.92" fill="#5566fb"/>
<circle cx="405.60" cy="278.12" r="2.92" fill="#5566fb"/>
<circle cx="416.55" cy="278.12" r="2.92" fill="#5566fb"/>
<circle cx="427.50" cy="278.12" r="2.92" fill="#7ccbf4"/>
<circle cx="438.45" cy="278.12" r="2.92" fill="#5566fb"/>
<circle cx="449.40" cy="278.12" r="2.9" fill="#fff" stroke="#222" stroke-width="0.65"/>
<circle cx="318.00" cy="286.24" r="2.92" fill="#5566fb"/>
<circle cx="328.95" cy="286.24" r="2.92" fill="#5566fb"/>
<circle cx="339.90" cy="286.24" r="2.92" fill="#5566fb"/>
<circle cx="350.85" cy="286.24" r="2.92" fill="#5566fb"/>
<circle cx="361.80" cy="286.24" r="2.92" fill="#5566fb"/>
<circle cx="372.75" cy="286.24" r="2.92" fill="#5566fb"/>
<circle cx="383.70" cy="286.24" r="2.92" fill="#5566fb"/>
<circle cx="394.65" cy="286.24" r="2.92" fill="#5566fb"/>
<circle cx="405.60" cy="286.24" r="2.92" fill="#5566fb"/>
<circle cx="416.55" cy="286.24" r="2.92" fill="#5566fb"/>
<circle cx="427.50" cy="286.24" r="2.92" fill="#7ccbf4"/>
<circle cx="438.45" cy="286.24" r="2.92" fill="#5566fb"/>
<circle cx="449.40" cy="286.24" r="2.92" fill="#7ccbf4"/>
<circle cx="318.00" cy="295.70" r="2.92" fill="#7ccbf4"/>
<circle cx="328.95" cy="295.70" r="2.92" fill="#5566fb"/>
<circle cx="339.90" cy="295.70" r="2.92" fill="#5566fb"/>
<circle cx="350.85" cy="295.70" r="2.92" fill="#5566fb"/>
<circle cx="361.80" cy="295.70" r="2.92" fill="#5566fb"/>
<circle cx="372.75" cy="295.70" r="2.92" fill="#5566fb"/>
<circle cx="383.70" cy="295.70" r="2.92" fill="#5566fb"/>
<circle cx="394.65" cy="295.70" r="2.92" fill="#5566fb"/>
<circle cx="405.60" cy="295.70" r="2.92" fill="#5566fb"/>
<circle cx="416.55" cy="295.70" r="2.92" fill="#5566fb"/>
<circle cx="427.50" cy="295.70" r="2.92" fill="#7ccbf4"/>
<circle cx="438.45" cy="295.70" r="2.92" fill="#1a1212"/>
<circle cx="449.40" cy="295.70" r="2.92" fill="#1a1212"/>
<circle cx="318.00" cy="303.82" r="2.92" fill="#7ccbf4"/>
<circle cx="328.95" cy="303.82" r="2.92" fill="#7ccbf4"/>
<circle cx="339.90" cy="303.82" r="2.92" fill="#5566fb"/>
<circle cx="350.85" cy="303.82" r="2.92" fill="#5566fb"/>
<circle cx="361.80" cy="303.82" r="2.92" fill="#5566fb"/>
<circle cx="372.75" cy="303.82" r="2.92" fill="#5566fb"/>
<circle cx="383.70" cy="303.82" r="2.92" fill="#7ccbf4"/>
<circle cx="394.65" cy="303.82" r="2.92" fill="#7ccbf4"/>
<circle cx="405.60" cy="303.82" r="2.92" fill="#5566fb"/>
<circle cx="416.55" cy="303.82" r="2.92" fill="#5566fb"/>
<circle cx="427.50" cy="303.82" r="2.92" fill="#7ccbf4"/>
<circle cx="438.45" cy="303.82" r="2.92" fill="#5566fb"/>
<circle cx="449.40" cy="303.82" r="2.92" fill="#1a1212"/>
<circle cx="318.00" cy="311.94" r="2.92" fill="#7ccbf4"/>
<circle cx="328.95" cy="311.94" r="2.92" fill="#7ccbf4"/>
<circle cx="339.90" cy="311.94" r="2.92" fill="#5566fb"/>
<circle cx="350.85" cy="311.94" r="2.92" fill="#5566fb"/>
<circle cx="361.80" cy="311.94" r="2.92" fill="#5566fb"/>
<circle cx="372.75" cy="311.94" r="2.92" fill="#5566fb"/>
<circle cx="383.70" cy="311.94" r="2.92" fill="#7ccbf4"/>
<circle cx="394.65" cy="311.94" r="2.92" fill="#7ccbf4"/>
<circle cx="405.60" cy="311.94" r="2.92" fill="#5566fb"/>
<circle cx="416.55" cy="311.94" r="2.92" fill="#5566fb"/>
<circle cx="427.50" cy="311.94" r="2.92" fill="#7ccbf4"/>
<circle cx="438.45" cy="311.94" r="2.92" fill="#5566fb"/>
<circle cx="449.40" cy="311.94" r="2.92" fill="#1a1212"/>
<text x="457.8" y="177.12" font-size="4.5" text-anchor="start" font-weight="normal" font-family="Liberation Serif, serif" fill="#222" stroke="#222" stroke-width="0.08" >STE E15</text>
<text x="457.8" y="202.72" font-size="4.5" text-anchor="start" font-weight="normal" font-family="Liberation Serif, serif" fill="#222" stroke="#222" stroke-width="0.08" >STE E23</text>
<text x="457.8" y="228.42000000000002" font-size="4.5" text-anchor="start" font-weight="normal" font-family="Liberation Serif, serif" fill="#222" stroke="#222" stroke-width="0.08" >STE P1</text>
<text x="457.8" y="253.72" font-size="4.5" text-anchor="start" font-weight="normal" font-family="Liberation Serif, serif" fill="#222" stroke="#222" stroke-width="0.08" >WZE E15</text>
<text x="457.8" y="279.52" font-size="4.5" text-anchor="start" font-weight="normal" font-family="Liberation Serif, serif" fill="#222" stroke="#222" stroke-width="0.08" >WZE E23</text>
<text x="457.8" y="305.21999999999997" font-size="4.5" text-anchor="start" font-weight="normal" font-family="Liberation Serif, serif" fill="#222" stroke="#222" stroke-width="0.08" >WZE P1</text>
<text x="373" y="266.6" font-size="4.4" text-anchor="middle" font-weight="normal" font-family="Liberation Serif, serif" fill="#222" stroke="#222" stroke-width="0.12" >‡***</text>
<text x="383.4" y="266.6" font-size="4.4" text-anchor="middle" font-weight="normal" font-family="Liberation Serif, serif" fill="#222" stroke="#222" stroke-width="0.12" >‡*</text>
<text x="417.3" y="292.2" font-size="4.4" text-anchor="middle" font-weight="normal" font-family="Liberation Serif, serif" fill="#222" stroke="#222" stroke-width="0.12" >‡***</text>
<text x="317.6" y="320.8" font-size="4.0" text-anchor="middle" font-weight="normal" font-family="Liberation Serif, serif" fill="#222" stroke="#222" stroke-width="0.1" >‡*</text>
<text x="339.2" y="320.8" font-size="4.0" text-anchor="middle" font-weight="normal" font-family="Liberation Serif, serif" fill="#222" stroke="#222" stroke-width="0.1" >‡*</text>
<text x="350.4" y="320.8" font-size="4.0" text-anchor="middle" font-weight="normal" font-family="Liberation Serif, serif" fill="#222" stroke="#222" stroke-width="0.1" >‡*</text>
<text x="373" y="320.8" font-size="4.0" text-anchor="middle" font-weight="normal" font-family="Liberation Serif, serif" fill="#222" stroke="#222" stroke-width="0.1" >‡*</text>
<text x="394.4" y="320.8" font-size="4.0" text-anchor="middle" font-weight="normal" font-family="Liberation Serif, serif" fill="#222" stroke="#222" stroke-width="0.1" >‡*</text>
</svg>
</body></html>
